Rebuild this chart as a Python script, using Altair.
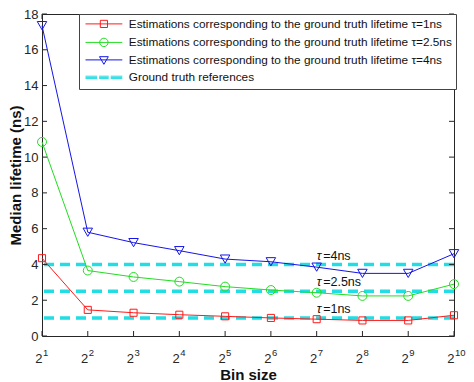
import altair as alt
import pandas as pd

# ---- data ----
exps = [1, 2, 3, 4, 5, 6, 7, 8, 9, 10]
tau1 = [4.35, 1.46, 1.30, 1.19, 1.10, 1.01, 0.94, 0.87, 0.87, 1.16]
tau25 = [10.85, 3.66, 3.30, 3.04, 2.76, 2.57, 2.42, 2.24, 2.24, 2.90]
tau4 = [17.35, 5.80, 5.22, 4.77, 4.30, 4.15, 3.85, 3.50, 3.50, 4.60]
refs = [1.0, 2.5, 4.0]
exp_labels = ["1", "2", "3", "4", "5", "6", "7", "8", "9", "10"]
y_ticks = [0, 2, 4, 6, 8, 10, 12, 14, 16, 18]
ann_text = ["=4ns", "=2.5ns", "=1ns"]
ann_x = [7, 7, 7]
ann_y = [4.5, 3.0, 1.5]

names = [
    "Estimations corresponding to the ground truth lifetime τ=1ns",
    "Estimations corresponding to the ground truth lifetime τ=2.5ns",
    "Estimations corresponding to the ground truth lifetime τ=4ns",
]
ref_name = "Ground truth references"
colors = ["#ff1a1a", "#22dd22", "#1515e6"]
ref_color = "#22dde3"
shapes = ["square", "circle", "triangle-down"]
sizes = [50, 80, 90]

W, H = 412, 322
FONT = "Liberation Sans"

xs = alt.Scale(domain=[1, 10], nice=False, zero=False)
ys = alt.Scale(domain=[0, 18], nice=False)

x_axis = alt.Axis(values=exps, labelExpr="'2'", labelAlign="right", labelOverlap=False,
                  ticks=False, domain=False, grid=False, labelPadding=16,
                  labelFontSize=13, title="Bin size", labelFlush=False,
                  titleFontSize=15, titleFontWeight="bold", titlePadding=2.5,
                  labelColor="#262626", titleColor="#111")
y_axis = alt.Axis(values=y_ticks, tickCount=10, ticks=False, domain=False, grid=False,
                  labelOverlap=False, labelFlush=False,
                  labelPadding=4, labelFontSize=13, title="Median lifetime (ns)",
                  titleFontSize=15, titleFontWeight="bold", titleX=-19, titleBaseline="bottom",
                  labelColor="#262626", titleColor="#111")


def X(field="x"):
    return alt.X(f"{field}:Q", scale=xs, axis=x_axis)


def Y(field="y"):
    return alt.Y(f"{field}:Q", scale=ys, axis=y_axis)


layers = []

# legend-only layer (invisible marks, legend symbols drawn with custom paths)
line = "M-4.6,0H4.6"
leg_paths = [
    line + "M-0.9,-0.9H0.9V0.9H-0.9Z",
    line + "M-1.05,0A1.05,1.05 0 1,0 1.05,0A1.05,1.05 0 1,0 -1.05,0Z",
    line + "M-1.1,-0.8H1.1L0,1.1Z",
    "".join(f"M-4.6,{d}H-1.7M-1.2,{d}H1.2M1.7,{d}H4.6" for d in (-0.3, 0, 0.3)),
]
leg_domain = names + [ref_name]
leg_df = pd.DataFrame({"x": [1] * 4, "y": [0] * 4, "series": leg_domain})
legend_layer = alt.Chart(leg_df).mark_point(filled=False, size=64, opacity=0, strokeWidth=1).encode(
    x=X(), y=Y(),
    stroke=alt.Stroke("series:N", scale=alt.Scale(domain=leg_domain, range=colors + [ref_color]),
                      legend=alt.Legend(title=None, orient="none", legendX=37, legendY=0,
                                        direction="vertical", symbolOpacity=1, symbolSize=64,
                                        symbolStrokeWidth=1, symbolOffset=15, labelOffset=19,
                                        labelFontSize=11.8, labelFont=FONT, labelColor="#111",
                                        labelLimit=0, padding=4, rowPadding=4.5,
                                        strokeColor="#444", fillColor="white")),
    shape=alt.Shape("series:N", scale=alt.Scale(domain=leg_domain, range=leg_paths)),
)
layers.append(legend_layer)

# reference dashed lines
ref_df = pd.DataFrame({"y": refs})
layers.append(alt.Chart(ref_df).mark_rule(color=ref_color, strokeWidth=3.5, strokeDash=[10, 6]).encode(
    y=Y()))

# series lines and markers
for name, vals, col, shp, sz in zip(names, [tau1, tau25, tau4], colors, shapes, sizes):
    df = pd.DataFrame({"x": exps, "y": vals})
    layers.append(alt.Chart(df).mark_line(color=col, strokeWidth=1).encode(x=X(), y=Y()))
    layers.append(alt.Chart(df).mark_point(color=col, shape=shp, size=sz, filled=False,
                                           strokeWidth=1, opacity=1).encode(x=X(), y=Y()))

# annotations (italic tau + rest)
ann_df = pd.DataFrame({"x": ann_x, "y": ann_y, "t": ann_text})
layers.append(alt.Chart(ann_df).mark_text(align="left", baseline="middle", fontSize=12.5,
                                          font=FONT, fontStyle="italic", color="#111", text="τ").encode(
    x=X(), y=Y()))
layers.append(alt.Chart(ann_df).mark_text(align="left", baseline="middle", fontSize=12.5, dx=6.5,
                                          font=FONT, color="#111").encode(
    x=X(), y=Y(), text="t:N"))

# superscript exponents of the x tick labels
exp_df = pd.DataFrame({"x": exps, "e": exp_labels})
layers.append(alt.Chart(exp_df).mark_text(align="left", baseline="alphabetic", fontSize=9.5, dx=1,
                                          font=FONT, color="#262626").encode(
    x=X(), y=alt.value(H + 20), text="e:N"))

# inward ticks on all four sides
xt = pd.DataFrame({"x": exps})
yt = pd.DataFrame({"y": y_ticks})
tick_col = "#262626"
layers.append(alt.Chart(xt).mark_rule(color=tick_col, strokeWidth=1).encode(
    x=X(), y=alt.value(H), y2=alt.value(H - 5)))
layers.append(alt.Chart(xt).mark_rule(color=tick_col, strokeWidth=1).encode(
    x=X(), y=alt.value(0), y2=alt.value(5)))
layers.append(alt.Chart(yt).mark_rule(color=tick_col, strokeWidth=1).encode(
    y=Y(), x=alt.value(0), x2=alt.value(5)))
layers.append(alt.Chart(yt).mark_rule(color=tick_col, strokeWidth=1).encode(
    y=Y(), x=alt.value(W), x2=alt.value(W - 5)))

chart = alt.layer(*layers).properties(
    width=W, height=H,
    autosize=alt.AutoSizeParams(type="none"),
    padding={"left": 34, "top": 6, "right": 12, "bottom": 46},
).configure(font=FONT).configure_axis(labelOverlap=False).configure_view(
    stroke="#262626", strokeWidth=1)

chart.save("out.html", embed_options={"renderer": "svg", "actions": False})
